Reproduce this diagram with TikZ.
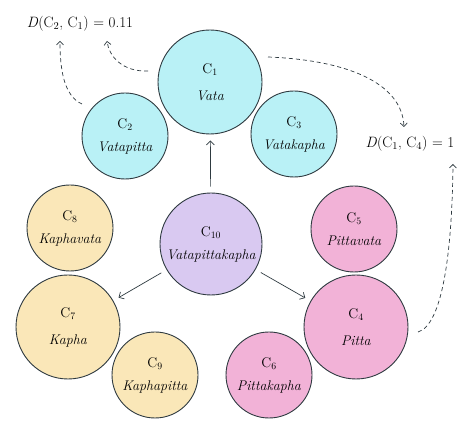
\documentclass[tikz,border=0pt]{standalone}
\usetikzlibrary{arrows.meta}
\definecolor{cyanf}{HTML}{B9F1F6}
\definecolor{purpf}{HTML}{D9C9F1}
\definecolor{yelf}{HTML}{FAE7B8}
\definecolor{pinkf}{HTML}{F2B2D7}
\definecolor{edge}{HTML}{2E3A40}
\newcommand{\Cn}[1]{C\textsubscript{#1}}
\begin{document}
\begin{tikzpicture}[x=1pt,y=-1pt,
  cl/.style={circle, draw=edge, line width=0.9pt, inner sep=0pt, minimum size=#1, align=center,
    font=\fontsize{14}{23}\selectfont},
  big/.style={cl=104pt, font=\fontsize{14}{27}\selectfont},
  small/.style={cl=86pt},
  conn/.style={draw=edge, line width=0.7pt, -{Straight Barb[length=4pt,width=8pt]}, shorten <=6pt, shorten >=6pt},
  dconn/.style={draw=edge, line width=0.7pt, dashed, dash pattern=on 4pt off 3pt, -{Straight Barb[length=3.5pt,width=7pt]}},
  lbl/.style={font=\fontsize{15}{17}\selectfont, inner sep=1pt}
]
\useasboundingbox (0,0) rectangle (474,435);
\node[big, fill=cyanf] (C1) at (210,82) {\Cn{1}\\\textit{Vata}};
\node[small, fill=cyanf] (C2) at (125,136) {\Cn{2}\\\textit{Vatapitta}};
\node[small, fill=cyanf] (C3) at (294,134) {\Cn{3}\\\textit{Vatakapha}};
\node[cl=102pt, fill=purpf] (C10) at (211,244) {\Cn{10}\\\textit{Vatapittakapha}};
\node[small, fill=yelf] (C8) at (70,228) {\Cn{8}\\\textit{Kaphavata}};
\node[small, fill=pinkf] (C5) at (354,229) {\Cn{5}\\\textit{Pittavata}};
\node[big, fill=yelf] (C7) at (68,327) {\Cn{7}\\\textit{Kapha}};
\node[small, fill=yelf] (C9) at (155,375) {\Cn{9}\\\textit{Kaphapitta}};
\node[big, fill=pinkf] (C4) at (356,327) {\Cn{4}\\\textit{Pitta}};
\node[small, fill=pinkf] (C6) at (269,375) {\Cn{6}\\\textit{Pittakapha}};
\node[lbl] (D21) at (80,24) {\textit{D}(\Cn{2}, \Cn{1}) = 0.11};
\node[lbl] (D14) at (410,144) {\textit{D}(\Cn{1}, \Cn{4}) = 1};
\coordinate (t1) at (60,41);
\coordinate (t2) at (107,41);
\coordinate (t3) at (404,127);
\coordinate (t4) at (453,164);
\draw[conn] (C10) -- (C1);
\draw[conn] (C10) -- (C7);
\draw[conn] (C10) -- (C4);
\draw[dconn] (148,71) .. controls (122,72) and (109,56) .. (t2);
\draw[dconn] (82,104) .. controls (64,96) and (60,70) .. (t1);
\draw[dconn] (268,57) .. controls (345,60) and (402,82) .. (t3);
\draw[dconn] (418,332) .. controls (442,325) and (452,255) .. (t4);
\end{tikzpicture}
\end{document}
